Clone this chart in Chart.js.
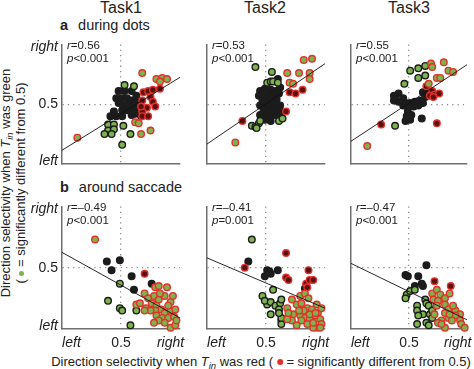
<!DOCTYPE html>
<html>
<head>
<meta charset="utf-8">
<script src="https://cdn.jsdelivr.net/npm/chart.js@4.4.0/dist/chart.umd.min.js"></script>
<style>
  body { margin: 0; background: #fff; }
  #fig { position: relative; width: 474px; height: 369px; overflow: hidden;
         font-family: "Liberation Sans", Arial, Helvetica, sans-serif; color: #222; }
  #fig canvas { position: absolute; }
  .t { position: absolute; white-space: nowrap; }
  .task { font-size: 16px; transform: translateX(-50%); top: -1px; }
  .sect { font-size: 14.5px; left: 60px; }
  .stat { font-size: 11.5px; line-height: 13px; }
  .sub { font-size: 9.5px; font-style: italic; position: relative; top: 3px; }
  .dot { display: inline-block; width: 6px; height: 6px; border-radius: 50%; vertical-align: 1px; }
</style>
</head>
<body>
<div id="fig">
  <div class="t task" style="left:121px">Task1</div>
  <div class="t task" style="left:265px">Task2</div>
  <div class="t task" style="left:409px">Task3</div>
  <div class="t sect" style="top:17px"><b>a</b><span style="margin-left:10px">during dots</span></div>
  <div class="t sect" style="top:179px"><b>b</b><span style="margin-left:10px">around saccade</span></div>
  <div class="t" style="left:-137px;top:169px;width:300px;height:28px;line-height:14px;font-size:13px;text-align:center;transform:rotate(-90deg)">
    Direction selectivity when <i>T</i><span class="sub">in</span> was green<br>
    ( <span class="dot" style="background:#7cb34e;width:5px;height:5px"></span> = significantly different from 0.5)
  </div>
  <div class="t" style="left:261px;top:354px;font-size:13px;transform:translateX(-50%)">
    Direction selectivity when <i>T</i><span class="sub">in</span> was red ( <span class="dot" style="background:#e5302a"></span> = significantly different from 0.5)
  </div>
</div>
<script>
// ---- data (x = selectivity when Tin red, y = when Tin green) ----
// a: during dots
const t1aNone = [[0.48,0.61],[0.53,0.61],[0.59,0.61],[0.63,0.57],[0.46,0.55],[0.51,0.55],[0.55,0.55],[0.59,0.53],[0.62,0.52],[0.65,0.51],[0.48,0.51],[0.52,0.49],[0.56,0.49],[0.61,0.48],[0.63,0.47],[0.51,0.45],[0.55,0.45],[0.59,0.44],[0.62,0.42],[0.44,0.44],[0.46,0.40],[0.41,0.40],[0.51,0.40],[0.67,0.40],[0.59,0.41]];
const t1aGreen = [[0.53,0.66],[0.61,0.65],[0.39,0.33],[0.44,0.33],[0.39,0.28],[0.44,0.29],[0.36,0.25],[0.42,0.25],[0.52,0.32],[0.58,0.25],[0.51,0.16]];
const t1aRed = [[0.69,0.60],[0.73,0.61],[0.77,0.62],[0.83,0.63],[0.68,0.53],[0.75,0.56],[0.77,0.52],[0.79,0.48],[0.72,0.47],[0.68,0.44],[0.68,0.40],[0.73,0.40],[0.67,0.48]];
const t1aBoth = [[0.13,0.22],[0.68,0.76],[0.80,0.71],[0.85,0.72],[0.83,0.69],[0.89,0.71],[0.62,0.35],[0.65,0.34],[0.67,0.25],[0.75,0.28]];

const t2aNone = [[0.60,0.71],[0.45,0.61],[0.49,0.63],[0.54,0.62],[0.58,0.61],[0.62,0.64],[0.44,0.57],[0.48,0.57],[0.52,0.57],[0.56,0.58],[0.61,0.59],[0.47,0.53],[0.51,0.53],[0.55,0.53],[0.59,0.54],[0.45,0.49],[0.49,0.48],[0.54,0.49],[0.58,0.48],[0.62,0.49],[0.48,0.45],[0.52,0.44],[0.56,0.45],[0.61,0.45],[0.45,0.41],[0.49,0.40],[0.54,0.40],[0.58,0.41],[0.49,0.37],[0.54,0.36],[0.63,0.43]];
const t2aGreen = [[0.41,0.81],[0.55,0.77],[0.51,0.68],[0.54,0.69],[0.56,0.69],[0.60,0.68],[0.38,0.32],[0.41,0.31],[0.44,0.34],[0.45,0.36],[0.42,0.30],[0.61,0.36],[0.64,0.38]];
const t2aRed = [[0.70,0.60],[0.75,0.59],[0.81,0.62],[0.67,0.44],[0.30,0.36]];
const t2aBoth = [[0.24,0.18],[0.82,0.87],[0.89,0.88],[0.68,0.76],[0.78,0.76],[0.87,0.76],[0.70,0.68],[0.73,0.67],[0.87,0.71]];

const t3aNone = [[0.37,0.57],[0.41,0.59],[0.45,0.55],[0.37,0.53],[0.41,0.52],[0.47,0.51],[0.51,0.51],[0.55,0.52],[0.60,0.53],[0.64,0.56],[0.65,0.59],[0.62,0.60],[0.45,0.49],[0.49,0.48],[0.54,0.48],[0.58,0.49],[0.62,0.51],[0.49,0.44],[0.48,0.40],[0.52,0.41],[0.51,0.37],[0.47,0.36],[0.61,0.38],[0.38,0.55]];
const t3aGreen = [[0.46,0.67],[0.51,0.78],[0.58,0.80],[0.64,0.82],[0.58,0.72],[0.64,0.74],[0.38,0.32]];
const t3aRed = [[0.26,0.33],[0.74,0.34],[0.65,0.65],[0.70,0.61],[0.72,0.58],[0.76,0.59],[0.68,0.57],[0.71,0.56]];
const t3aBoth = [[0.14,0.15],[0.69,0.84],[0.70,0.81],[0.80,0.85],[0.84,0.78],[0.88,0.77],[0.74,0.72],[0.77,0.72],[0.67,0.67]];

// b: around saccade
const t1bNone = [[0.38,0.55],[0.42,0.48],[0.49,0.56],[0.59,0.43],[0.61,0.32],[0.76,0.37]];
const t1bGreen = [[0.49,0.37],[0.39,0.23],[0.49,0.17],[0.51,0.15],[0.63,0.15],[0.58,0.03]];
const t1bRed = [[0.70,0.45]];
const t1bBoth = [[0.28,0.73],[0.70,0.29],[0.79,0.34],[0.82,0.35],[0.89,0.34],[0.78,0.27],[0.73,0.25],[0.63,0.20],[0.66,0.21],[0.71,0.17],[0.76,0.21],[0.82,0.24],[0.87,0.27],[0.92,0.22],[0.80,0.19],[0.84,0.16],[0.87,0.13],[0.92,0.15],[0.96,0.16],[0.79,0.15],[0.75,0.15],[0.80,0.11],[0.85,0.09],[0.90,0.09],[0.95,0.10],[0.82,0.07],[0.87,0.05],[0.92,0.01],[0.96,0.03],[0.97,0.07],[0.78,0.05],[0.70,0.15],[0.90,0.19],[0.83,0.29],[0.94,0.27]];

const t2bNone = [[0.35,0.55],[0.51,0.48],[0.53,0.47],[0.54,0.45],[0.60,0.48],[0.49,0.43],[0.83,0.33]];
const t2bGreen = [[0.38,0.73],[0.47,0.27],[0.51,0.20],[0.49,0.23],[0.54,0.22],[0.56,0.32],[0.58,0.19],[0.62,0.21],[0.61,0.16],[0.63,0.24],[0.54,0.12],[0.63,0.07],[0.63,0.04],[0.63,0.09],[0.61,0.13]];
const t2bRed = [[0.32,0.50],[0.67,0.62],[0.67,0.42],[0.69,0.40],[0.86,0.48],[0.84,0.37],[0.87,0.40],[0.90,0.40],[0.85,0.34]];
const t2bBoth = [[0.68,0.17],[0.72,0.24],[0.76,0.20],[0.79,0.27],[0.80,0.21],[0.83,0.29],[0.86,0.25],[0.85,0.17],[0.89,0.16],[0.93,0.20],[0.94,0.13],[0.97,0.17],[0.73,0.12],[0.79,0.11],[0.83,0.09],[0.87,0.08],[0.92,0.11],[0.96,0.08],[0.97,0.04],[0.93,0.01],[0.90,0.01],[0.85,0.04],[0.80,0.07],[0.72,0.07],[0.68,0.08],[0.76,0.03],[0.87,0.12],[0.92,0.13],[0.82,0.15],[0.78,0.15],[0.69,0.13],[0.90,0.05],[0.96,0.01]];

const t3bNone = [[0.65,0.52],[0.47,0.44],[0.49,0.43],[0.58,0.43],[0.61,0.37],[0.62,0.35],[0.55,0.35]];
const t3bGreen = [[0.48,0.28],[0.51,0.31],[0.47,0.25],[0.55,0.32],[0.64,0.24],[0.57,0.19],[0.65,0.21],[0.67,0.19],[0.57,0.15],[0.62,0.12],[0.68,0.12],[0.70,0.09],[0.65,0.05],[0.57,0.04],[0.67,0.03],[0.58,0.11],[0.70,0.15]];
const t3bRed = [[0.72,0.39],[0.86,0.35]];
const t3bBoth = [[0.70,0.29],[0.74,0.32],[0.77,0.28],[0.71,0.24],[0.75,0.23],[0.81,0.25],[0.85,0.29],[0.81,0.20],[0.74,0.19],[0.84,0.16],[0.90,0.15],[0.94,0.12],[0.90,0.11],[0.84,0.09],[0.78,0.07],[0.75,0.05],[0.87,0.07],[0.94,0.07],[0.95,0.04],[0.98,0.01],[0.81,0.13],[0.72,0.12],[0.81,0.01],[0.78,0.04],[0.85,0.12],[0.88,0.19]];

// regression lines: [y at x=0, y at x=1]
const fitA = [[0.115, 0.725], [0.167, 0.839], [0.19, 0.83]];
const fitB = [[0.625, 0.09], [0.58, 0.17], [0.535, 0.075]];

const rA = ['0.56', '0.53', '0.55'];
const pA = ['<0.001', '<0.001', '<0.001'];
const rB = ['\u20130.49', '\u20130.41', '\u20130.47'];
const pB = ['<0.001', '=0.001', '<0.001'];

const xTickValues = [0.08, 0.5, 0.92];
const xTickLabels = ['left', '0.5', 'right'];
const yTickValues = [0.02, 0.5, 0.98];
const yTickLabels = ['left', '0.5', 'right'];

// ---- layout ----
const FONT = '"Liberation Sans", Arial, Helvetica, sans-serif';
const colLeft = [62, 207, 351], colWidth = [118, 118, 116];
const rowTop = [40, 202], rowHeight = [124, 127];
const PAD_L = 45, PAD_T = 8, PAD_R = 12, PAD_B = 26;

const BLACK = '#1c1c1c', GREEN = '#7cb34e', RED = '#e5302a', DARKRED = '#5a1010';

Chart.defaults.font.family = FONT;
const fig = document.getElementById('fig');

const panels = [
  [t1aNone, t1aGreen, t1aRed, t1aBoth], [t2aNone, t2aGreen, t2aRed, t2aBoth], [t3aNone, t3aGreen, t3aRed, t3aBoth],
  [t1bNone, t1bGreen, t1bRed, t1bBoth], [t2bNone, t2bGreen, t2bRed, t2bBoth], [t3bNone, t3bGreen, t3bRed, t3bBoth]
];
const fits = fitA.concat(fitB);
const rTexts = rA.concat(rB), pTexts = pA.concat(pB);

function dots(data, fill, edge) {
  return {
    type: 'scatter', data: data, showLine: false, clip: false,
    pointRadius: 3.3, pointBorderWidth: 1.4,
    pointBackgroundColor: fill, pointBorderColor: edge
  };
}

function tickFont(c) {
  const plain = c.tick && c.tick.value === 0.5;
  return { family: FONT, size: 14, style: plain ? 'normal' : 'italic' };
}

function gridColor(c) {
  return c.tick && c.tick.value === 0.5 ? '#8c8c8c' : 'rgba(0,0,0,0)';
}

panels.forEach(function (sets, k) {
  const row = Math.floor(k / 3), col = k % 3;
  const cv = document.createElement('canvas');
  cv.width = PAD_L + colWidth[col] + PAD_R;
  cv.height = PAD_T + rowHeight[row] + PAD_B;
  cv.style.left = (colLeft[col] - PAD_L) + 'px';
  cv.style.top = (rowTop[row] - PAD_T) + 'px';
  fig.appendChild(cv);

  const fit = fits[k];
  new Chart(cv, {
    type: 'scatter',
    data: {
      datasets: [
        { type: 'line', data: [{x: 0, y: fit[0]}, {x: 1, y: fit[1]}], borderColor: '#111',
          borderWidth: 0.9, pointRadius: 0, fill: false },
        dots(sets[3], GREEN, RED),
        dots(sets[2], DARKRED, RED),
        dots(sets[1], GREEN, BLACK),
        dots(sets[0], BLACK, BLACK)
      ]
    },
    options: {
      responsive: false,
      animation: false,
      events: [],
      layout: { padding: { left: 0, top: PAD_T, right: PAD_R, bottom: 0 } },
      plugins: { legend: { display: false }, tooltip: { enabled: false } },
      scales: {
        x: {
          type: 'linear', min: 0, max: 1,
          afterBuildTicks: function (s) { s.ticks = xTickValues.map(function (v) { return {value: v}; }); },
          afterFit: function (s) { s.height = PAD_B; },
          ticks: { autoSkip: false, maxRotation: 0, padding: 6, color: '#222', font: tickFont,
                   callback: function (v, i) { return row === 1 ? xTickLabels[i] : ''; } },
          grid: { drawTicks: false, color: gridColor, lineWidth: 1.3 },
          border: { color: '#6e6e6e', width: 1.5, dash: [1.3, 4] }
        },
        y: {
          type: 'linear', min: 0, max: 1,
          afterBuildTicks: function (s) { s.ticks = yTickValues.map(function (v) { return {value: v}; }); },
          afterFit: function (s) { s.width = PAD_L; },
          ticks: { autoSkip: false, padding: 4, color: '#222', font: tickFont,
                   callback: function (v, i) { return col === 0 ? yTickLabels[i] : ''; } },
          grid: { drawTicks: false, color: gridColor, lineWidth: 1.3 },
          border: { color: '#6e6e6e', width: 1.5, dash: [1.3, 4] }
        }
      }
    }
  });

  const st = document.createElement('div');
  st.className = 't stat';
  st.style.left = (colLeft[col] + 5) + 'px';
  st.style.top = (rowTop[row] - 1.5) + 'px';
  st.innerHTML = '<i>r</i>=' + rTexts[k] + '<br><i>p</i>' + pTexts[k];
  fig.appendChild(st);
});
</script>
</body>
</html>
